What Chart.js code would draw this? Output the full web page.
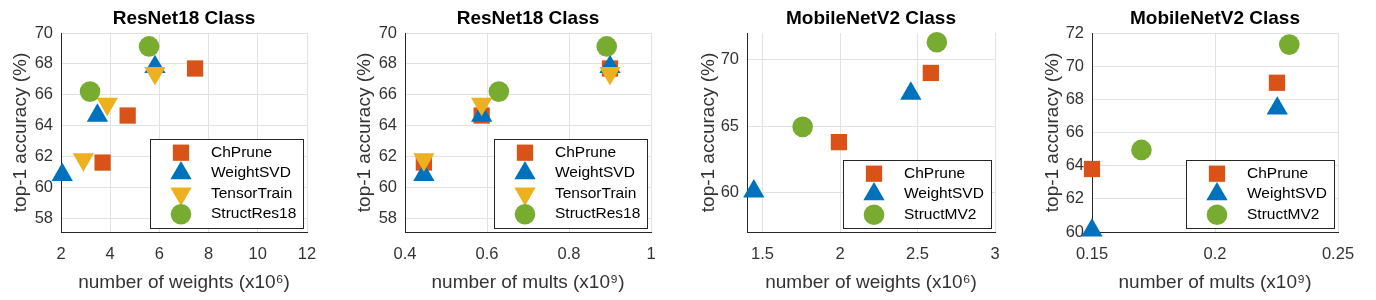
<!DOCTYPE html>
<html>
<head>
<meta charset="utf-8">
<script src="https://cdn.jsdelivr.net/npm/chart.js@4.4.0/dist/chart.umd.min.js"></script>
<style>
  body { margin: 0; background: #fff; }
  .row { display: flex; width: 1376px; height: 300px; }
  .cell { width: 344px; height: 300px; }
</style>
</head>
<body>
<div class="row">
  <div class="cell"><canvas id="c1" width="344" height="300"></canvas></div>
  <div class="cell"><canvas id="c2" width="344" height="300"></canvas></div>
  <div class="cell"><canvas id="c3" width="344" height="300"></canvas></div>
  <div class="cell"><canvas id="c4" width="344" height="300"></canvas></div>
</div>
<script>
// --- DATA: ResNet18 class (accuracy %, weights x1e6, mults x1e9) ---
const r18ChPruneAcc = [67.7, 64.65, 61.6];
const r18ChPruneWeights = [7.45, 4.71, 3.69];
const r18ChPruneMults = [0.9, 0.587, 0.446];

const r18WeightSvdAcc = [67.8, 64.65, 60.8];
const r18WeightSvdWeights = [5.82, 3.48, 2.05];
const r18WeightSvdMults = [0.9, 0.587, 0.446];

const r18TensorTrainAcc = [67.4, 65.4, 61.8];
const r18TensorTrainWeights = [5.82, 3.88, 2.91];
const r18TensorTrainMults = [0.9, 0.587, 0.446];

const r18StructAcc = [69.13, 66.2];
const r18StructWeights = [5.58, 3.18];
const r18StructMults = [0.892, 0.629];

// --- DATA: MobileNetV2 class ---
const mv2ChPruneAcc = [69.0, 63.8];
const mv2ChPruneWeights = [2.586, 1.993];
const mv2ChPruneMults = [0.2252, 0.15];

const mv2WeightSvdAcc = [67.45, 60.1];
const mv2WeightSvdWeights = [2.457, 1.444];
const mv2WeightSvdMults = [0.2253, 0.15];

const mv2StructAcc = [71.3, 64.95];
const mv2StructWeights = [2.625, 1.759];
const mv2StructMults = [0.2302, 0.1701];

// --- tick labels ---
const r18WeightTicks = [2, 4, 6, 8, 10, 12];
const r18MultTicks = [0.4, 0.6, 0.8, 1];
const r18AccTicks = [58, 60, 62, 64, 66, 68, 70];
const mv2WeightTicks = [1.5, 2, 2.5, 3];
const mv2MultTicks = [0.15, 0.2, 0.25];
const mv2WeightAccTicks = [60, 65, 70];
const mv2MultAccTicks = [60, 62, 64, 66, 68, 70, 72];

// --- STYLE ---
const FONT = '"Liberation Sans", Arial, sans-serif';
const AXIS_COLOR = '#262626';
const TEXT_COLOR = '#333333';
const GRID_COLOR = '#e2e2e2';
const markers = {
  ChPrune:     { pointStyle: 'rect', rotation: 0, radius: 11.5, color: '#D95319' },
  WeightSVD:   { pointStyle: 'triangle', rotation: 0, radius: 12.3, color: '#0072BD' },
  TensorTrain: { pointStyle: 'triangle', rotation: 180, radius: 12.3, color: '#EDB120' },
  StructRes18: { pointStyle: 'circle', rotation: 0, radius: 10.3, color: '#77AC30' },
  StructMV2:   { pointStyle: 'circle', rotation: 0, radius: 10.3, color: '#77AC30' }
};

Chart.defaults.font.family = FONT;

function pts(xs, ys) {
  return xs.map((x, i) => ({ x: x, y: ys[i] }));
}

function dataset(label, xs, ys, idx, total) {
  const m = markers[label];
  return {
    label: label,
    data: pts(xs, ys),
    pointStyle: m.pointStyle,
    rotation: m.rotation,
    pointRadius: m.radius,
    pointHoverRadius: m.radius,
    backgroundColor: m.color,
    borderColor: m.color,
    borderWidth: 0,
    clip: false,
    order: total - 1 - idx // later series on top, like MATLAB
  };
}

// legend box drawn inside the lower-right corner of the plot area
function drawMarker(ctx, style, rotation, r, x, y, color) {
  ctx.fillStyle = color;
  ctx.beginPath();
  if (style === 'rect') {
    const s = r * Math.SQRT1_2;
    ctx.rect(x - s, y - s, 2 * s, 2 * s);
  } else if (style === 'triangle') {
    let a = rotation * Math.PI / 180;
    ctx.moveTo(x + Math.sin(a) * r, y - Math.cos(a) * r);
    for (let k = 0; k < 2; k++) {
      a += 2 * Math.PI / 3;
      ctx.lineTo(x + Math.sin(a) * r, y - Math.cos(a) * r);
    }
    ctx.closePath();
  } else {
    ctx.arc(x, y, r, 0, Math.PI * 2);
  }
  ctx.fill();
}

const boxLegend = {
  id: 'boxLegend',
  afterDatasetsDraw(chart) {
    const ctx = chart.ctx, area = chart.chartArea;
    const sets = chart.data.datasets;
    ctx.save();
    ctx.font = '15.5px ' + FONT;
    const textW = Math.max(...sets.map(d => ctx.measureText(d.label).width));
    const rowH = 20.5, pad = 13.7;
    const w = Math.round(61 + textW + 7);
    const h = Math.round(pad * 2 + rowH * (sets.length - 1));
    const right = Math.round(area.right - 4.5);
    const bottom = Math.round(area.bottom - 4);
    const left = right - w, top = bottom - h;
    ctx.fillStyle = '#fff';
    ctx.fillRect(left, top, w, h);
    ctx.strokeStyle = AXIS_COLOR;
    ctx.lineWidth = 1;
    ctx.strokeRect(left + 0.5, top + 0.5, w, h);
    sets.forEach((d, i) => {
      const y = top + pad + i * rowH;
      drawMarker(ctx, d.pointStyle, d.rotation, d.pointRadius, left + 31, y, d.backgroundColor);
      ctx.fillStyle = '#000';
      ctx.textBaseline = 'middle';
      ctx.textAlign = 'left';
      ctx.fillText(d.label, left + 61, y);
    });
    ctx.restore();
  }
};

function makePanel(id, cfg) {
  const ctx = document.getElementById(id).getContext('2d');
  return new Chart(ctx, {
    type: 'scatter',
    data: { datasets: cfg.datasets },
    options: {
      responsive: false,
      animation: false,
      events: [],
      layout: { padding: { left: 0, top: 0, right: 344 - cfg.right, bottom: 0 } },
      plugins: {
        legend: { display: false },
        tooltip: { enabled: false },
        title: {
          display: true,
          text: cfg.title,
          fullSize: false,
          color: '#000',
          font: { size: 19, weight: 'bold', lineHeight: '19px' },
          padding: { top: 8.8, bottom: 5.2 }
        }
      },
      scales: {
        x: {
          type: 'linear',
          min: cfg.xMin,
          max: cfg.xMax,
          afterBuildTicks: s => { s.ticks = cfg.xTicks.map(v => ({ value: v })); },
          afterFit: s => { s.height = 300 - 232; },
          grid: { color: GRID_COLOR, drawTicks: false },
          border: { display: true, color: AXIS_COLOR, width: 1 },
          ticks: { color: TEXT_COLOR, font: { size: 16.5 }, padding: 13, maxRotation: 0, callback: v => String(v) },
          title: { display: true, text: cfg.xTitle, color: TEXT_COLOR, font: { size: 19 }, padding: { top: 0, bottom: 6.2 } }
        },
        y: {
          type: 'linear',
          min: cfg.yMin,
          max: cfg.yMax,
          afterBuildTicks: s => { s.ticks = cfg.yTicks.map(v => ({ value: v })); },
          afterFit: s => { s.width = cfg.left; },
          grid: { color: GRID_COLOR, drawTicks: false },
          border: { display: true, color: AXIS_COLOR, width: 1 },
          ticks: { color: TEXT_COLOR, font: { size: 16.5 }, padding: 8, callback: v => String(v) },
          title: { display: true, text: 'top-1 accuracy (%)', color: TEXT_COLOR, font: { size: 19 }, padding: { top: 9, bottom: 0 } }
        }
      }
    },
    plugins: [boxLegend]
  });
}

makePanel('c1', {
  title: 'ResNet18 Class', xTitle: 'number of weights (x10\u2076)',
  left: 61, right: 307,
  xMin: 2, xMax: 12, xTicks: r18WeightTicks,
  yMin: 57.1, yMax: 70, yTicks: r18AccTicks,
  datasets: [
    dataset('ChPrune', r18ChPruneWeights, r18ChPruneAcc, 0, 4),
    dataset('WeightSVD', r18WeightSvdWeights, r18WeightSvdAcc, 1, 4),
    dataset('TensorTrain', r18TensorTrainWeights, r18TensorTrainAcc, 2, 4),
    dataset('StructRes18', r18StructWeights, r18StructAcc, 3, 4)
  ]
});

makePanel('c2', {
  title: 'ResNet18 Class', xTitle: 'number of mults (x10\u2079)',
  left: 61, right: 307,
  xMin: 0.4, xMax: 1, xTicks: r18MultTicks,
  yMin: 57.1, yMax: 70, yTicks: r18AccTicks,
  datasets: [
    dataset('ChPrune', r18ChPruneMults, r18ChPruneAcc, 0, 4),
    dataset('WeightSVD', r18WeightSvdMults, r18WeightSvdAcc, 1, 4),
    dataset('TensorTrain', r18TensorTrainMults, r18TensorTrainAcc, 2, 4),
    dataset('StructRes18', r18StructMults, r18StructAcc, 3, 4)
  ]
});

makePanel('c3', {
  title: 'MobileNetV2 Class', xTitle: 'number of weights (x10\u2076)',
  left: 59, right: 307,
  xMin: 1.4, xMax: 3, xTicks: mv2WeightTicks,
  yMin: 57.05, yMax: 72, yTicks: mv2WeightAccTicks,
  datasets: [
    dataset('ChPrune', mv2ChPruneWeights, mv2ChPruneAcc, 0, 3),
    dataset('WeightSVD', mv2WeightSvdWeights, mv2WeightSvdAcc, 1, 3),
    dataset('StructMV2', mv2StructWeights, mv2StructAcc, 2, 3)
  ]
});

makePanel('c4', {
  title: 'MobileNetV2 Class', xTitle: 'number of mults (x10\u2079)',
  left: 60, right: 306,
  xMin: 0.15, xMax: 0.25, xTicks: mv2MultTicks,
  yMin: 60, yMax: 72, yTicks: mv2MultAccTicks,
  datasets: [
    dataset('ChPrune', mv2ChPruneMults, mv2ChPruneAcc, 0, 3),
    dataset('WeightSVD', mv2WeightSvdMults, mv2WeightSvdAcc, 1, 3),
    dataset('StructMV2', mv2StructMults, mv2StructAcc, 2, 3)
  ]
});
</script>
</body>
</html>
